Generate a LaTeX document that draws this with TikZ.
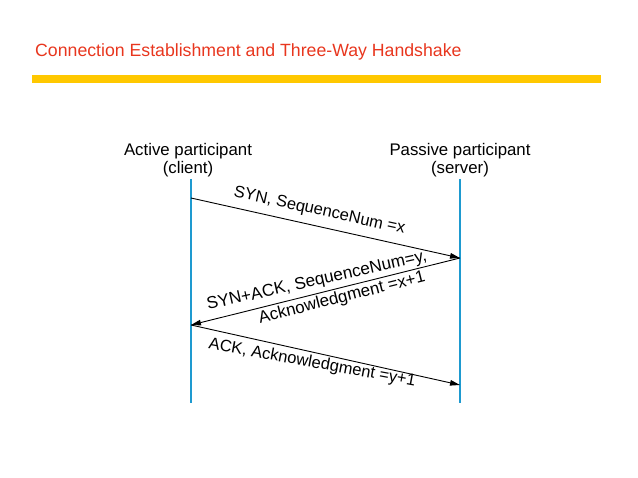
\documentclass[tikz,border=0pt]{standalone}
\usepackage{fontspec}
\setmainfont{Liberation Sans}
\usetikzlibrary{calc}
\usetikzlibrary{positioning}
\usetikzlibrary{arrows.meta}
\definecolor{titlered}{HTML}{E8361E}
\definecolor{baryellow}{HTML}{FFC800}
\definecolor{lifeblue}{HTML}{1E9AD0}
\tikzset{
  lifeline/.style={draw=lifeblue, line width=2pt},
  msg/.style={draw=black, line width=0.9pt, -{Triangle[length=10pt,width=5.5pt]}},
  msglabel/.style={anchor=base west, inner sep=0, font=\fontsize{16.5}{20}\selectfont}
}

\begin{document}
\begin{tikzpicture}[x=1pt,y=-1pt]
  \useasboundingbox (0,0) rectangle (638,478);

  \node[anchor=base west, text=titlered, inner sep=0,
        font=\fontsize{17.7}{21}\selectfont] (title) at (35,56.5)
        {Connection Establishment and Three-Way Handshake};
  \fill[baryellow] (32,75) rectangle (601,83);

  \begin{scope}[every node/.style={align=center, anchor=north, inner sep=0,
                                   font=\fontsize{16.8}{18.5}\selectfont}]
    \node (client) at (188,143) {Active participant\\(client)};
    \node (server) at (460,143) {Passive participant\\(server)};
  \end{scope}

  \coordinate (client top) at (191,179);
  \coordinate (client bot) at (191,403);
  \coordinate (server top) at (460,179);
  \coordinate (server bot) at (460,403);
  \draw[lifeline] (client top) -- (client bot);
  \draw[lifeline] (server top) -- (server bot);

  \coordinate (syn)    at (191,198);
  \coordinate (synack) at (460,258);
  \coordinate (ack)    at (191,325);
  \coordinate (done)   at (460,385);

  \draw[msg] (syn) -- (synack);
  \draw[msg] (synack) -- (ack);
  \draw[msg] (ack) -- (done);

  % labels of the three segments
  \node[msglabel, rotate=-12.3] (synlabel) at (233,196.5) {SYN, SequenceNum =x};
  \node[msglabel, rotate=12.7, font=\fontsize{17.1}{20}\selectfont] (synacklabel)
    at (208,310) {SYN+ACK, SequenceNum=y,};
  \node[msglabel, rotate=14.2, font=\fontsize{16.9}{20}\selectfont] (acknlabel)
    at (260,323.3) {Acknowledgment =x+1};
  \node[msglabel, rotate=-10.4] (acklabel) at (208,348.3) {ACK, Acknowledgment =y+1};
\end{tikzpicture}
\end{document}
